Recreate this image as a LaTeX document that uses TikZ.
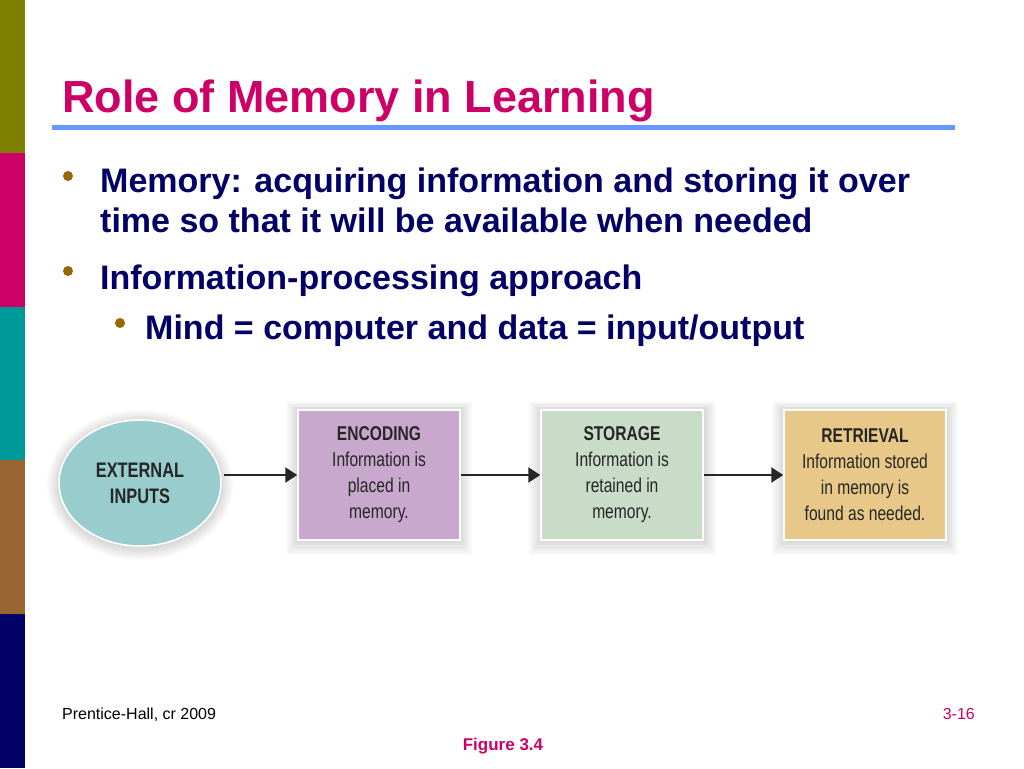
\documentclass[tikz,border=0pt]{standalone}
\usepackage{fontspec}
\setmainfont{Liberation Sans}
\newfontfamily\narrowfont[FakeStretch=0.78]{Liberation Sans}
\usetikzlibrary{shapes.geometric,arrows.meta}
\definecolor{olivebar}{HTML}{808000}
\definecolor{magbar}{HTML}{CC0066}
\definecolor{tealbar}{HTML}{009999}
\definecolor{brownbar}{HTML}{996633}
\definecolor{navy}{HTML}{000066}
\definecolor{rule}{HTML}{6699FF}
\definecolor{dot}{HTML}{996600}
\definecolor{ellfill}{HTML}{99CCCC}
\definecolor{encfill}{HTML}{C8A8CC}
\definecolor{stofill}{HTML}{C8DCC8}
\definecolor{retfill}{HTML}{E8C888}
\tikzset{
 stage/.style={draw=white,line width=1.5pt,minimum width=162pt,minimum height=130pt,align=center,inner sep=2pt,font=\narrowfont\fontsize{20}{26}\selectfont,text=black!85},
 flow/.style={line width=2.5pt,black!85,-{Triangle[length=12pt,width=15pt]}},
 bul/.style={anchor=base west,text=navy,font=\bfseries\fontsize{34}{40}\selectfont},
 dotmark/.style={circle,fill=dot,inner sep=0pt,minimum size=10pt}
}
\begin{document}
\begin{tikzpicture}[x=1pt,y=-1pt]
\useasboundingbox (0,0) rectangle (1024,768);
\fill[white] (0,0) rectangle (1024,768);
\foreach \xx/\yy/\ww/\hh in {298/410/162/130,541/410/163/130,784/410/162/130}{
  \foreach \k in {1,...,6}{\fill[black,opacity=0.025] (\xx-\k*2,\yy-\k*1.5) rectangle (\xx+\ww+\k*2,\yy+\hh+\k*2.5);}
}
\foreach \k in {1,...,6}{\fill[black,opacity=0.025] (140,485) ellipse ({81+\k*2} and {63+\k*2});}
\fill[olivebar] (0,0) rectangle (25,153);
\fill[magbar] (0,153) rectangle (25,307);
\fill[tealbar] (0,307) rectangle (25,460);
\fill[brownbar] (0,460) rectangle (25,614);
\fill[navy] (0,614) rectangle (25,768);
\node[anchor=base west,text=magbar,font=\bfseries\fontsize{45}{52}\selectfont,inner sep=0pt] (title) at (62,112) {Role of Memory in Learning};
\fill[rule] (52,125) rectangle (955,130);
\node[dotmark] (d1) at (68,176) {};
\node[bul,inner sep=0pt] (b1) at (100,192) {Memory: acquiring information and storing it over};
\node[bul,inner sep=0pt] (b1b) at (100,232) {time so that it will be available when needed};
\node[dotmark] (d2) at (68,271) {};
\node[bul,inner sep=0pt] (b2) at (100,289) {Information-processing approach};
\node[dotmark] (d3) at (120,323) {};
\node[bul,inner sep=0pt] (b3) at (145,339) {Mind = computer and data = input/output};
\node[ellipse,fill=ellfill,draw=white,line width=1.5pt,minimum width=162pt,minimum height=126pt,align=center,font=\narrowfont\bfseries\fontsize{21}{26}\selectfont,text=black!85] (ext) at (140,483) {EXTERNAL\\INPUTS};
\node[stage,fill=encfill] (enc) at (379,475) {\textbf{ENCODING}\\Information is\\placed in\\memory.};
\node[stage,fill=stofill] (sto) at (622,475) {\textbf{STORAGE}\\Information is\\retained in\\memory.};
\node[stage,fill=retfill] (ret) at (865,475) {\textbf{RETRIEVAL}\\Information stored\\in memory is\\found as needed.};
\draw[flow] (ext.east |- enc.west) ++(2,0) -- (enc.west);
\draw[flow] (enc) -- (sto);
\draw[flow] (sto) -- (ret);
\node[anchor=base west,font=\fontsize{16}{18}\selectfont,inner sep=0pt] (ph) at (62,719) {Prentice-Hall, cr 2009};
\node[anchor=base east,font=\fontsize{16}{18}\selectfont,text=magbar,inner sep=0pt] (pg) at (975,719) {3-16};
\node[anchor=base,font=\bfseries\fontsize{17}{18}\selectfont,text=magbar,inner sep=0pt] (fig) at (503,750) {Figure 3.4};
\end{tikzpicture}
\end{document}
